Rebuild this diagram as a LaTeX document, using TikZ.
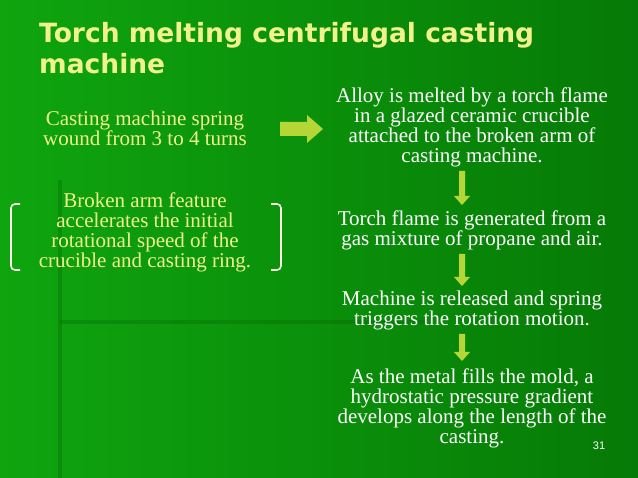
\documentclass[tikz,border=0pt]{standalone}
\usepackage{fontspec}
\setmainfont{Liberation Serif}
\newfontfamily\titlefont{DejaVu Sans}
\newfontfamily\pgfont{Liberation Sans}
\definecolor{bgA}{HTML}{0FA50F}
\definecolor{bgB}{HTML}{067A06}
\definecolor{ytext}{HTML}{F2F28C}
\definecolor{arr}{HTML}{B4D636}
\tikzset{
 body/.style={align=center,font=\fontsize{21}{20}\selectfont,inner sep=0pt},
 ylw/.style={body,text=ytext},
 wht/.style={body,text=white},
 brk/.style={draw=white!90!yellow,line width=1.6pt,rounded corners=4pt}
}
\begin{document}
\begin{tikzpicture}[x=1pt,y=-1pt]
\useasboundingbox (0,0) rectangle (638,478);
\shade[left color=bgA,right color=bgB] (0,0) rectangle (638,478);
\fill[bgB!85!black,opacity=.35] (58,180) rectangle (62,478);
\fill[bgB!85!black,opacity=.35] (60,320) rectangle (425,324);
\node[anchor=north west,align=left,font=\titlefont\bfseries\fontsize{26.5}{31}\selectfont,text=ytext,inner sep=0pt] (title) at (39,22) {Torch melting centrifugal casting\\machine};
\node[ylw] (spring) at (145,128) {Casting machine spring\\wound from 3 to 4 turns};
\node[ylw] (broken) at (145,232) {Broken arm feature\\accelerates the initial\\rotational speed of the\\crucible and casting ring.};
\node[wht] (s1) at (472,127) {Alloy is melted by a torch flame\\in a glazed ceramic crucible\\attached to the broken arm of\\casting machine.};
\node[wht] (s2) at (472,230) {Torch flame is generated from a\\gas mixture of propane and air.};
\node[wht] (s3) at (472,310) {Machine is released and spring\\triggers the rotation motion.};
\node[wht] (s4) at (472,408) {As the metal fills the mold, a\\hydrostatic pressure gradient\\develops along the length of the\\casting.};
\node[font=\pgfont\fontsize{11}{13}\selectfont,text=white] (pg) at (599,446) {31};
\fill[arr] (280,122) -- (307,122) -- (307,115) -- (323,129) -- (307,143) -- (307,136) -- (280,136) -- cycle;
\foreach \ya/\yb in {171/205,254/286,334/361}{
 \fill[arr] (459,\ya) -- (465,\ya) -- (465,\yb-9) -- (470,\yb-9) -- (462,\yb) -- (454,\yb-9) -- (459,\yb-9) -- cycle;
}
\draw[brk] (20,204) -- (11,204) -- (11,270) -- (20,270);
\draw[brk] (271,204) -- (281,204) -- (281,270) -- (271,270);
\end{tikzpicture}
\end{document}
